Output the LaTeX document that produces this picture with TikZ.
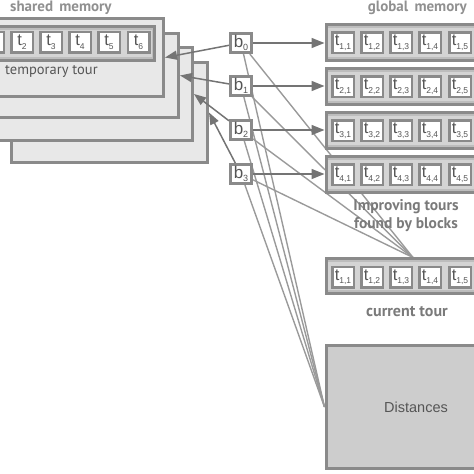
\documentclass[tikz,border=0pt]{standalone}
\usepackage{fontspec}
\setmainfont{PT Sans}
\newfontfamily\arialf{Liberation Sans}
\usetikzlibrary{arrows.meta}
\pgfdeclarelayer{bg}
\pgfsetlayers{bg,main}
\definecolor{frame}{HTML}{8A8A8A}
\definecolor{stripfill}{HTML}{BDBDBD}
\definecolor{stripin}{HTML}{D4D4D4}
\definecolor{boxfill}{HTML}{E8E8E8}
\definecolor{lbl}{HTML}{909090}
\definecolor{lbldark}{HTML}{7A7A7A}
\definecolor{txt}{HTML}{555555}
\definecolor{lnk}{HTML}{9A9A9A}
\definecolor{arr}{HTML}{747474}
\definecolor{distfill}{HTML}{CDCDCD}
\newcommand\cellt[1]{t\raisebox{-3.5pt}{\fontsize{8.5}{8.5}\selectfont #1}}
\newcommand\blab[1]{b\raisebox{-3.5pt}{\fontsize{9}{9}\selectfont #1}}
\tikzset{
  cellbox/.style={draw=frame, line width=2.5pt, fill=white, minimum width=21.5pt,
    minimum height=20.5pt, inner sep=0pt, text=txt,
    font=\arialf\fontsize{16.5}{16.5}\selectfont},
  bbox/.style={draw=frame, line width=3pt, fill=white, minimum width=21pt,
    minimum height=19pt, inner sep=0pt, text=txt,
    font=\arialf\fontsize{17}{17}\selectfont},
  stripout/.style={draw=frame, line width=3pt, fill=stripfill, inner sep=0pt},
  stripinn/.style={draw=none, fill=stripin, inner sep=0pt},
  shbox/.style={draw=frame, line width=3pt, fill=boxfill, inner sep=0pt},
  distbox/.style={draw=frame, line width=3pt, fill=distfill, inner sep=0pt},
  head/.style={text=lbl, font=\bfseries\fontsize{15}{15}\selectfont, inner sep=0pt},
  note/.style={text=lbldark, font=\bfseries\fontsize{15.5}{18}\selectfont, inner sep=0pt, align=center},
  plain/.style={text=txt, font=\fontsize{14.5}{14.5}\selectfont, inner sep=0pt},
  toglob/.style={draw=arr, line width=1.5pt, -{Triangle[length=13pt,width=10pt]}},
  toshared/.style={draw=arr, line width=1.5pt, -{Triangle[length=12pt,width=9pt]}},
  link/.style={draw=lnk, line width=1.4pt},
}
\begin{document}
\begin{tikzpicture}[x=1pt,y=-1pt]
\useasboundingbox (0,0) rectangle (474,474);
% shared memory stack (back to front)
\node[shbox, minimum width=196pt, minimum height=100pt] (s4) at (109.5,112.5) {};
\node[shbox, minimum width=196pt, minimum height=93pt] (s3) at (94.5,94) {};
\node[shbox, minimum width=196pt, minimum height=84pt] (s2) at (80.5,75.5) {};
\node[shbox, minimum width=196pt, minimum height=78pt] (s1) at (65.5,57.5) {};
\node[stripout, minimum width=183pt, minimum height=34pt] (ts) at (63,43.5) {};
\node[stripinn, minimum width=177pt, minimum height=27pt] (tsi) at (63,43) {};
\node[cellbox] (tc1) at (-7,42) {};
\foreach \i/\x in {2/22,3/51,4/80,5/109,6/138.5}
  \node[cellbox] (tc\i) at (\x,42) {\cellt{\i}};
\node[plain, anchor=west] (tmp) at (5,71) {temporary tour};
\node[head, anchor=west] (shm) at (10,8) {shared\, memory};
\node[head, anchor=east] (glm) at (467,8) {global\, memory};
% b nodes
\foreach \k/\y in {0/43,1/86,2/130,3/174}
  \node[bbox] (b\k) at (241,\y) {\blab{\k}};
% global strips
\foreach \r/\y in {1/42,2/86,3/130,4/174}{
  \node[stripout, minimum width=200pt, minimum height=36pt, anchor=west] (g\r) at (324.5,\y) {};
  \node[stripinn, minimum width=200pt, minimum height=29pt, anchor=west] (gi\r) at (328,\y) {};
  \foreach \c/\x in {1/343,2/372,3/401,4/430,5/460}
    \node[cellbox] (c\r\c) at (\x,\y+0.5) {\cellt{\r,\c}};
}
% current tour
\node[stripout, minimum width=200pt, minimum height=35pt, anchor=west] (cs) at (324.5,276) {};
\node[stripinn, minimum width=200pt, minimum height=28pt, anchor=west] (csi) at (328,276) {};
\foreach \c/\x in {1/343,2/372,3/401,4/430,5/460}
  \node[cellbox] (cc\c) at (\x,277) {\cellt{1,\c}};
\coordinate (ct) at (413,257.5);
\node[note] (imp) at (406,216) {Improving tours\\found by blocks};
\node[head, text=lbldark, font=\bfseries\fontsize{16}{16}\selectfont] (cur) at (407,312) {current tour};
% distances
\node[distbox, minimum width=190pt, minimum height=123pt, anchor=west] (dist) at (324.5,407) {};
\node[text=txt, font=\arialf\fontsize{14.5}{14.5}\selectfont, inner sep=0pt] (dlab) at (416,407) {Distances};
% connectors
\begin{pgfonlayer}{bg}
\foreach \k in {0,1,2,3}{
  \draw[link] (b\k) -- (ct);
  \draw[link] (b\k) -- (dist.west);
}
\end{pgfonlayer}
\foreach \k/\r in {0/1,1/2,2/3,3/4}
  \draw[toglob] (b\k.east) -- (b\k.east -| g\r.west);
\draw[toshared] (b0) -- (s1.east);
\draw[toshared] (b1) -- (s2.east);
\draw[toshared] (b2) -- (s3.east);
\draw[toshared] (b3) -- (s4.east);
\end{tikzpicture}
\end{document}
